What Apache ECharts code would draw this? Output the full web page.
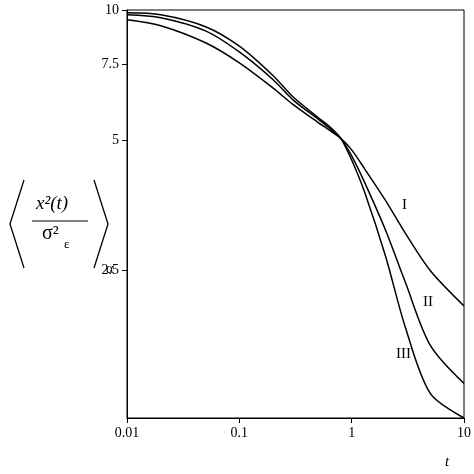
<!DOCTYPE html>
<html><head><meta charset="utf-8">
<script src="https://cdn.jsdelivr.net/npm/echarts@6/dist/echarts.min.js"></script>
<style>html,body{margin:0;padding:0;background:#fff}#main{width:474px;height:474px}</style>
</head><body><div id="main"></div>
<script>
// values
var tValues = [0.01, 0.02, 0.05, 0.1, 0.2, 0.3, 0.5, 0.65, 0.8, 1, 1.3, 2, 3, 5, 10];
var curveI   = [9.5, 9.2, 8.4, 7.55, 6.6, 6.05, 5.5, 5.25, 5.05, 4.75, 4.3, 3.63, 3.05, 2.5, 2.07];
var curveII  = [9.75, 9.6, 8.95, 8.0, 6.9, 6.2, 5.6, 5.3, 5.05, 4.6, 4.0, 3.1, 2.35, 1.68, 1.37];
var curveIII = [9.85, 9.75, 9.15, 8.25, 7.05, 6.3, 5.65, 5.35, 5.05, 4.5, 3.8, 2.7, 1.85, 1.3, 1.14];
var xTicks = [0.01, 0.1, 1, 10];
var yTicks = [2.5, 5, 7.5, 10];

function pairs(ys) {
  var out = [];
  for (var i = 0; i < tValues.length; i++) out.push([tValues[i], ys[i]]);
  return out;
}
function line(ys) {
  return { type: 'line', data: pairs(ys), smooth: 0.3, showSymbol: false,
    lineStyle: { color: '#000', width: 1.5 } };
}
var font = 'Liberation Serif';
var myChart = echarts.init(document.getElementById('main'));
myChart.setOption({
  animation: false,
  grid: { left: 127, right: 8, top: 10, bottom: 56, show: true, borderColor: '#000', borderWidth: 1 },
  xAxis: {
    type: 'log', logBase: 10, min: 0.01, max: 10,
    axisLine: { lineStyle: { color: '#000' } },
    axisTick: { customValues: xTicks, length: 5, lineStyle: { color: '#000' } },
    axisLabel: { customValues: xTicks, color: '#000', fontFamily: font, fontSize: 14,
      formatter: function (v) { return String(+v.toPrecision(3)); } },
    splitLine: { show: false }
  },
  yAxis: {
    type: 'log', logBase: 10, min: 1.14, max: 10,
    axisLine: { show: true, lineStyle: { color: '#000' } },
    axisTick: { show: true, customValues: yTicks, length: 5, lineStyle: { color: '#000' } },
    axisLabel: { customValues: yTicks, color: '#000', fontFamily: font, fontSize: 14,
      formatter: function (v) { return String(+v.toPrecision(3)); } },
    splitLine: { show: false }
  },
  series: [line(curveI), line(curveII), line(curveIII)],
  graphic: [
    { type: 'text', left: 402, top: 198, style: { text: 'I', font: '15px ' + font, fill: '#000' } },
    { type: 'text', left: 423, top: 295, style: { text: 'II', font: '15px ' + font, fill: '#000' } },
    { type: 'text', left: 396, top: 347, style: { text: 'III', font: '15px ' + font, fill: '#000' } },
    { type: 'text', left: 445, top: 455, style: { text: 't', font: 'italic 15px ' + font, fill: '#000' } },
    { type: 'polyline', shape: { points: [[24, 180], [10, 224], [24, 268]] }, style: { stroke: '#000', lineWidth: 1.3, fill: null } },
    { type: 'text', left: 36, top: 194, style: { text: 'x\u00B2(t)', font: 'italic 19px ' + font, fill: '#000' } },
    { type: 'line', shape: { x1: 32, y1: 221, x2: 88, y2: 221 }, style: { stroke: '#000', lineWidth: 1.2 } },
    { type: 'text', left: 42, top: 224, style: { text: '\u03C3\u00B2', font: '20px ' + font, fill: '#000' } },
    { type: 'text', left: 64, top: 238, style: { text: '\u03B5', font: '13px ' + font, fill: '#000' } },
    { type: 'polyline', shape: { points: [[94, 180], [108, 224], [94, 268]] }, style: { stroke: '#000', lineWidth: 1.3, fill: null } },
    { type: 'text', left: 106, top: 262, style: { text: '\u03B1', font: '14px ' + font, fill: '#000' } }
  ]
});
</script></body></html>
